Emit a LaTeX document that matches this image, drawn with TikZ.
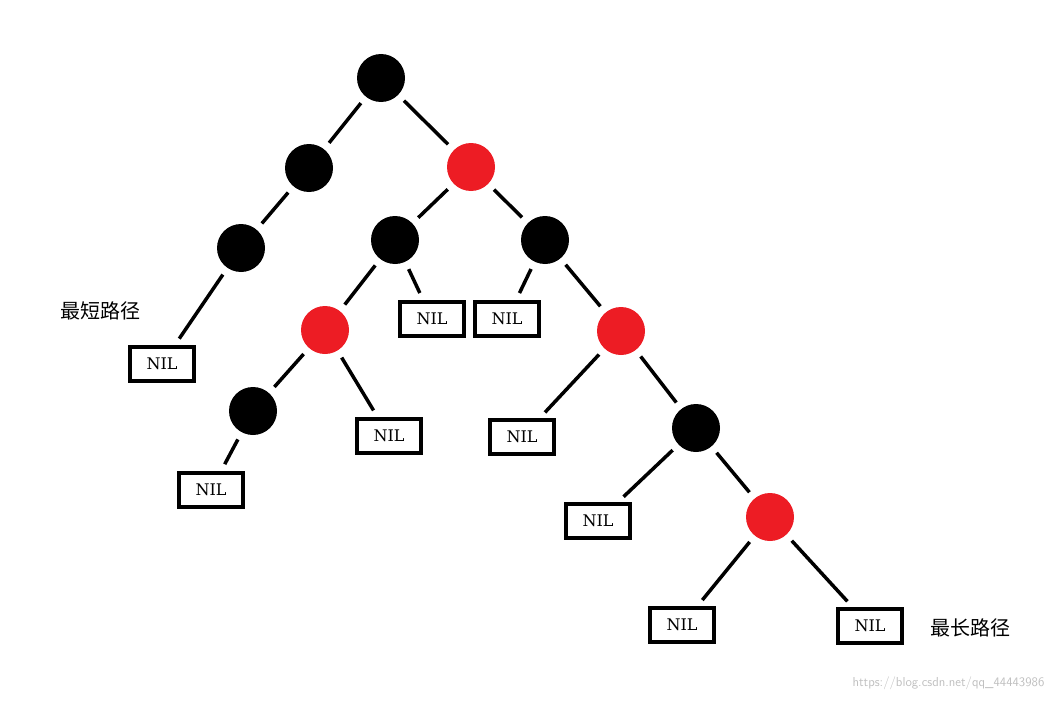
\documentclass[tikz,border=0pt]{standalone}
\usepackage{fontspec}
\newfontfamily\cjk{Noto Sans CJK SC}
\newfontfamily\nilfont{DejaVu Serif}
\definecolor{rbred}{HTML}{ED1C24}
\begin{document}
\begin{tikzpicture}[x=1pt,y=-1pt,
  bk/.style={circle,fill=black,minimum size=48pt,inner sep=0pt},
  rd/.style={circle,fill=rbred,minimum size=48pt,inner sep=0pt},
  nil/.style={draw,line width=3.5pt,minimum width=64pt,minimum height=34pt,inner sep=0pt,font=\nilfont\fontsize{16}{16}\selectfont},
  ed/.style={line width=3.5pt,shorten >=8pt,shorten <=8pt},
  lab/.style={font=\cjk\fontsize{20}{20}\selectfont}]
\useasboundingbox (0,0) rectangle (1055,701);
\node[bk] (a) at (381,78) {};
\node[bk] (b) at (309,168) {};
\node[rd] (c) at (471,167) {};
\node[bk] (d) at (241,248) {};
\node[nil] (n1) at (162,364) {NIL};
\node[bk] (e) at (395,240) {};
\node[bk] (f) at (545,240) {};
\node[rd] (g) at (325,330) {};
\node[nil] (n2) at (432,319) {NIL};
\node[nil] (n3) at (507,319) {NIL};
\node[rd] (h) at (621,331) {};
\node[bk] (i) at (253,411) {};
\node[nil] (n4) at (389,436) {NIL};
\node[nil] (n5) at (211,490) {NIL};
\node[nil] (n6) at (522,437) {NIL};
\node[bk] (j) at (696,428) {};
\node[nil] (n7) at (598,521) {NIL};
\node[rd] (k) at (770,517) {};
\node[nil] (n8) at (682,625) {NIL};
\node[nil] (n9) at (870,626) {NIL};
\draw[ed] (a)--(b); \draw[ed] (a)--(c);
\draw[ed] (b)--(d); \draw[ed] (d)--(n1);
\draw[ed] (c)--(e); \draw[ed] (c)--(f);
\draw[ed] (e)--(g); \draw[ed] (e)--(n2);
\draw[ed] (f)--(n3); \draw[ed] (f)--(h);
\draw[ed] (g)--(i); \draw[ed] (g)--(n4);
\draw[ed] (i)--(n5);
\draw[ed] (h)--(n6); \draw[ed] (h)--(j);
\draw[ed] (j)--(n7); \draw[ed] (j)--(k);
\draw[ed] (k)--(n8); \draw[ed] (k)--(n9);
\node[lab] (l1) at (100,311) {最短路径};
\node[lab] (l2) at (970,628) {最长路径};
\node[font=\sffamily\fontsize{13}{13}\selectfont,text=black!25,anchor=east] (wm) at (1048,683) {https://blog.csdn.net/qq\_44443986};
\end{tikzpicture}
\end{document}
